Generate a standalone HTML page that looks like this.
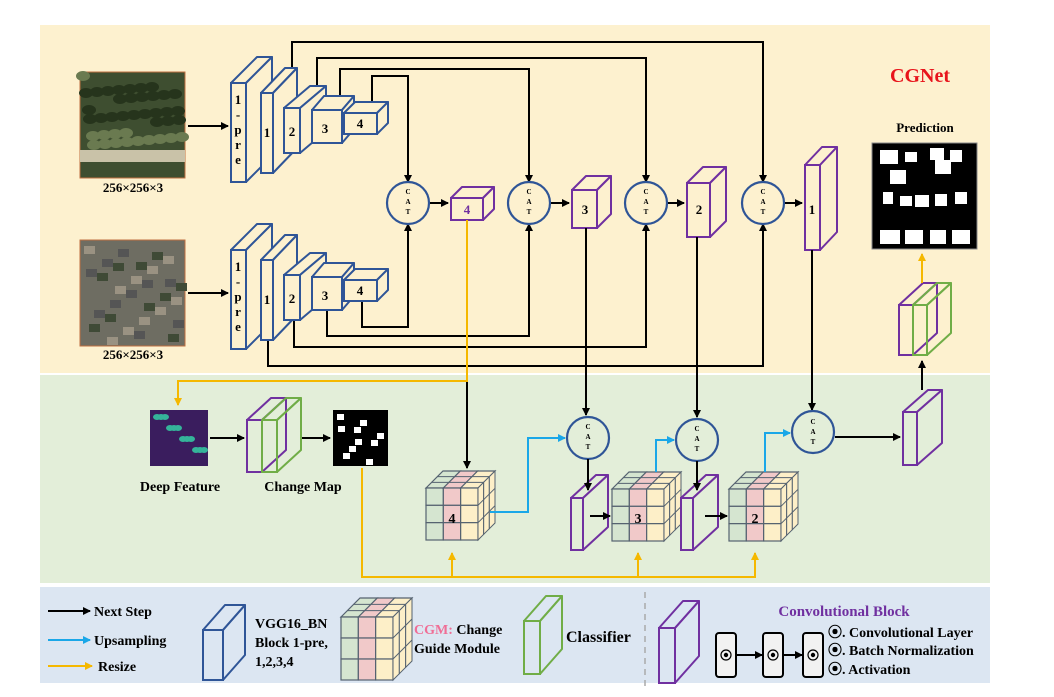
<!DOCTYPE html>
<html><head><meta charset="utf-8"><style>
html,body{margin:0;padding:0;background:#fff;}
svg{display:block;font-family:"Liberation Serif",serif;font-weight:bold;}
</style></head><body>
<svg id="s" width="1054" height="697" viewBox="0 0 1054 697" xmlns="http://www.w3.org/2000/svg">
<defs>
<marker id="ak" markerWidth="8" markerHeight="8" refX="7" refY="4" orient="auto" markerUnits="userSpaceOnUse"><path d="M0,0L8,4L0,8z" fill="#000"/></marker>
<marker id="ab" markerWidth="8" markerHeight="8" refX="7" refY="4" orient="auto" markerUnits="userSpaceOnUse"><path d="M0,0L8,4L0,8z" fill="#1aa7e8"/></marker>
<marker id="ao" markerWidth="8" markerHeight="8" refX="7" refY="4" orient="auto" markerUnits="userSpaceOnUse"><path d="M0,0L8,4L0,8z" fill="#f5b800"/></marker>
</defs>
<rect x="40" y="25" width="950" height="348" fill="#fdf1cf"/>
<rect x="40" y="375" width="950" height="208" fill="#e3eed9"/>
<rect x="40" y="587" width="950" height="96" fill="#dce6f2"/>
<g id="g"></g>
<text x="920" y="82" font-size="20" fill="#e8141b" text-anchor="middle">CGNet</text>
<text x="925" y="132" font-size="13" text-anchor="middle">Prediction</text>
<text x="133" y="192" font-size="13" text-anchor="middle">256×256×3</text>
<text x="133" y="359" font-size="13" text-anchor="middle">256×256×3</text>
<text x="180" y="491" font-size="14" text-anchor="middle">Deep Feature</text>
<text x="303" y="491" font-size="14" text-anchor="middle">Change Map</text>
<g font-size="13" text-anchor="middle">
<text x="238" y="104">1</text><text x="238" y="119">-</text><text x="238" y="134">p</text><text x="238" y="149">r</text><text x="238" y="164">e</text>
<text x="267" y="137">1</text><text x="292" y="136">2</text><text x="325" y="133">3</text><text x="360" y="128">4</text>
<text x="238" y="271">1</text><text x="238" y="286">-</text><text x="238" y="301">p</text><text x="238" y="316">r</text><text x="238" y="331">e</text>
<text x="267" y="304">1</text><text x="292" y="303">2</text><text x="325" y="300">3</text><text x="360" y="295">4</text>
<text x="467" y="214" fill="#7030a0">4</text><text x="585" y="214">3</text><text x="699" y="214">2</text><text x="812" y="214">1</text>
</g>
<g font-size="7" text-anchor="middle">
<text x="408" y="194">C</text><text x="408" y="204">A</text><text x="408" y="214">T</text>
<text x="529" y="194">C</text><text x="529" y="204">A</text><text x="529" y="214">T</text>
<text x="646" y="194">C</text><text x="646" y="204">A</text><text x="646" y="214">T</text>
<text x="763" y="194">C</text><text x="763" y="204">A</text><text x="763" y="214">T</text>
<text x="588" y="429">C</text><text x="588" y="439">A</text><text x="588" y="449">T</text>
<text x="697" y="431">C</text><text x="697" y="441">A</text><text x="697" y="451">T</text>
<text x="813" y="424">C</text><text x="813" y="434">A</text><text x="813" y="444">T</text>
</g>
<g font-size="14" text-anchor="middle">
<text x="452" y="523">4</text><text x="638" y="523">3</text><text x="755" y="523">2</text>
</g>
<g font-size="14">
<text x="94" y="616">Next Step</text>
<text x="94" y="645">Upsampling</text>
<text x="98" y="671">Resize</text>
<text x="255" y="628">VGG16_BN</text>
<text x="255" y="647">Block 1-pre,</text>
<text x="255" y="666">1,2,3,4</text>
<text x="414" y="634"><tspan fill="#f06e96">CGM:</tspan> Change</text>
<text x="414" y="653">Guide Module</text>
<text x="566" y="642" font-size="16">Classifier</text>
<text x="844" y="616" font-size="15" fill="#7030a0" text-anchor="middle">Convolutional Block</text>
<text x="828" y="637">⦿. Convolutional Layer</text>
<text x="828" y="655">⦿. Batch Normalization</text>
<text x="828" y="674">⦿. Activation</text>
</g>
</svg>
<script>
var g=document.getElementById('g'),NS='http://www.w3.org/2000/svg';
function el(t,a){var e=document.createElementNS(NS,t);for(var k in a)e.setAttribute(k,a[k]);g.appendChild(e);return e;}
function box(x,y,w,h,dx,dy,c,f,sw){sw=sw||2;f=f||'none';
el('polygon',{points:[x,y,x+dx,y+dy,x+w+dx,y+dy,x+w,y].join(' '),fill:f,stroke:c,'stroke-width':sw,'stroke-linejoin':'round'});
el('polygon',{points:[x+w,y,x+w+dx,y+dy,x+w+dx,y+h+dy,x+w,y+h].join(' '),fill:f,stroke:c,'stroke-width':sw,'stroke-linejoin':'round'});
el('rect',{x:x,y:y,width:w,height:h,fill:f,stroke:c,'stroke-width':sw});}
function line(pts,col,mk,sw){el('polyline',{points:pts.join(' '),fill:'none',stroke:col,'stroke-width':sw||2,'marker-end':mk?'url(#'+mk+')':''});}
function circ(x,y){el('circle',{cx:x,cy:y,r:21,fill:'none',stroke:'#2f5597','stroke-width':2.2});}
var Y='#fdf1cf',G='#e3eed9',B='#2f5597',P='#7030a0',GR='#70ad47';
line([292,68,292,42,763,42,763,182],'#000','ak');
line([317,86,317,58,646,58,646,182],'#000','ak');
line([340,99,340,69,529,69,529,182],'#000','ak');
line([372,103,372,76,408,76,408,182],'#000','ak');
line([362,300,362,327,408,327,408,224],'#000','ak');
line([327,310,327,336,529,336,529,224],'#000','ak');
line([294,320,294,347,646,347,646,224],'#000','ak');
line([268,340,268,366,763,366,763,224],'#000','ak');
function img(x,y,w,h,c){el('rect',{x:x,y:y,width:w,height:h,fill:c,stroke:'#c07040','stroke-width':1});}
img(80,72,105,106,'#3e4e30');
for(var i=0;i<40;i++)el('ellipse',{cx:83+(i*37)%100,cy:76+(i*23)%70,rx:7,ry:5,fill:(i%3?'#26341c':'#6a7a50')});
el('rect',{x:80,y:150,width:105,height:12,fill:'#c9c2a8'});
img(80,240,105,106,'#6e6d62');
for(var i=0;i<30;i++)el('rect',{x:84+(i*29)%95,y:246+(i*17)%92,width:11,height:8,fill:(i%3==0?'#9a9282':(i%3==1?'#3f4a36':'#555'))});
line([188,126,228,126],'#000','ak');line([188,293,228,293],'#000','ak');
[0,167].forEach(function(o){
box(231,83+o,15,99,26,-26,B,Y);
box(261,93+o,12,80,24,-25,B,Y);
box(284,108+o,16,45,26,-22,B,Y);
box(312,110+o,30,33,12,-14,B,Y);
box(344,113+o,33,21,11,-11,B,Y);});
[408,529,646,763].forEach(function(x){circ(x,203);});
line([430,203,448,203],'#000','ak');line([551,203,569,203],'#000','ak');
line([668,203,684,203],'#000','ak');line([785,203,802,203],'#000','ak');
box(451,198,32,22,11,-11,P,Y);
box(572,190,25,38,14,-14,P,Y);
box(687,183,23,54,16,-16,P,Y);
box(805,165,15,85,17,-18,P,Y);
line([586,228,586,415],'#000','ak');line([697,237,697,417],'#000','ak');line([812,250,812,410],'#000','ak');
line([467,220,467,468],'#000','ak');
line([467,220,467,381,178,381,178,405],'#f5b800','ao');
line([362,468,362,577,755,577,755,553],'#f5b800','ao',2);
line([452,577,452,553],'#f5b800','ao');line([638,577,638,553],'#f5b800','ao');
el('rect',{x:150,y:410,width:58,height:56,fill:'#3a1d5e'});
for(var i=0;i<12;i++)el('ellipse',{cx:157+(i*13)%48,cy:417+(i*11)%44,rx:4,ry:3,fill:'#35b49a'});
el('rect',{x:333,y:410,width:55,height:56,fill:'#000'});
for(var i=0;i<10;i++)el('rect',{x:337+(i*17)%45,y:414+(i*13)%46,width:7,height:6,fill:'#fff'});
line([210,438,244,438],'#000','ak');line([302,438,330,438],'#000','ak');
box(247,420,15,52,24,-22,P,G);box(262,420,15,52,24,-22,GR,'none');
function cgm(x,y,w,h,d){var cs=['#d5e5d0','#f1c9c9','#fdefc8'],c=w/3,r=h/3,st='#556270';
for(var i=0;i<3;i++){var a=x+i*c;
el('polygon',{points:[a,y,a+d,y-d,a+c+d,y-d,a+c,y].join(' '),fill:cs[i],stroke:st,'stroke-width':1.2});
for(var j=0;j<3;j++)el('rect',{x:a,y:y+j*r,width:c,height:r,fill:cs[i],stroke:st,'stroke-width':1.2});}
for(var j=1;j<3;j++)el('line',{x1:x+j*d/3,y1:y-j*d/3,x2:x+w+j*d/3,y2:y-j*d/3,stroke:st,'stroke-width':1});
for(var j=0;j<3;j++){var b=j*d/3;
el('polygon',{points:[x+w+b,y-b,x+w+b+d/3,y-b-d/3,x+w+b+d/3,y+h-b-d/3,x+w+b,y+h-b].join(' '),fill:'#fdefc8',stroke:st,'stroke-width':1});}
for(var j=1;j<3;j++)el('line',{x1:x+w,y1:y+j*r,x2:x+w+d,y2:y+j*r-d,stroke:st,'stroke-width':1});}
cgm(426,488,52,52,17);cgm(612,489,52,52,17);cgm(729,489,52,52,17);
line([490,512,528,512,528,438,565,438],'#1aa7e8','ab');
line([656,472,656,440,674,440],'#1aa7e8','ab');
line([765,472,765,433,790,433],'#1aa7e8','ab');
circ(588,438);circ(697,440);circ(813,432);
box(571,498,12,52,25,-23,P,G);box(681,498,12,52,25,-23,P,G);
line([588,459,588,490],'#000','ak');line([697,461,697,490],'#000','ak');
line([590,516,610,516],'#000','ak');line([705,516,727,516],'#000','ak');
line([835,437,900,437],'#000','ak');
box(903,412,14,53,25,-22,P,G);
line([922,390,922,361],'#000','ak');
box(899,305,14,50,24,-22,P,Y);box(913,305,14,50,24,-22,GR,'none');
line([922,283,922,254],'#f5b800','ao');
el('rect',{x:872,y:143,width:105,height:106,fill:'#000',stroke:'#888','stroke-width':1});
[[880,150,18,14],[905,152,12,10],[930,148,14,12],[950,150,12,12],[890,170,16,14],[935,160,16,14],[883,192,10,12],[900,196,12,10],[915,195,14,12],[935,194,12,12],[955,192,12,12],[880,230,20,14],[905,230,18,14],[930,230,16,14],[952,230,18,14]].forEach(function(r){el('rect',{x:r[0],y:r[1],width:r[2],height:r[3],fill:'#fff'});});
line([48,611,90,611],'#000','ak');line([48,640,90,640],'#1aa7e8','ab');line([48,666,92,666],'#f5b800','ao');
box(203,630,20,50,22,-25,B,'none');
cgm(341,617,52,63,19);
box(524,621,16,53,22,-25,GR,'none');
el('line',{x1:645,y1:592,x2:645,y2:690,stroke:'#aaa','stroke-width':1.5,'stroke-dasharray':'6,5'});
box(659,628,16,55,24,-27,P,'none');
[716,763,803].forEach(function(x,i){el('rect',{x:x,y:633,width:20,height:44,rx:3,fill:'#f2f2f2',stroke:'#000','stroke-width':2});
el('circle',{cx:x+10,cy:655,r:5,fill:'none',stroke:'#000','stroke-width':1.2});el('circle',{cx:x+10,cy:655,r:2.2,fill:'#000'});
if(i<2)line([x+21,655,(i?803:763)-1,655],'#000','ak');});
</script>
</body></html>
